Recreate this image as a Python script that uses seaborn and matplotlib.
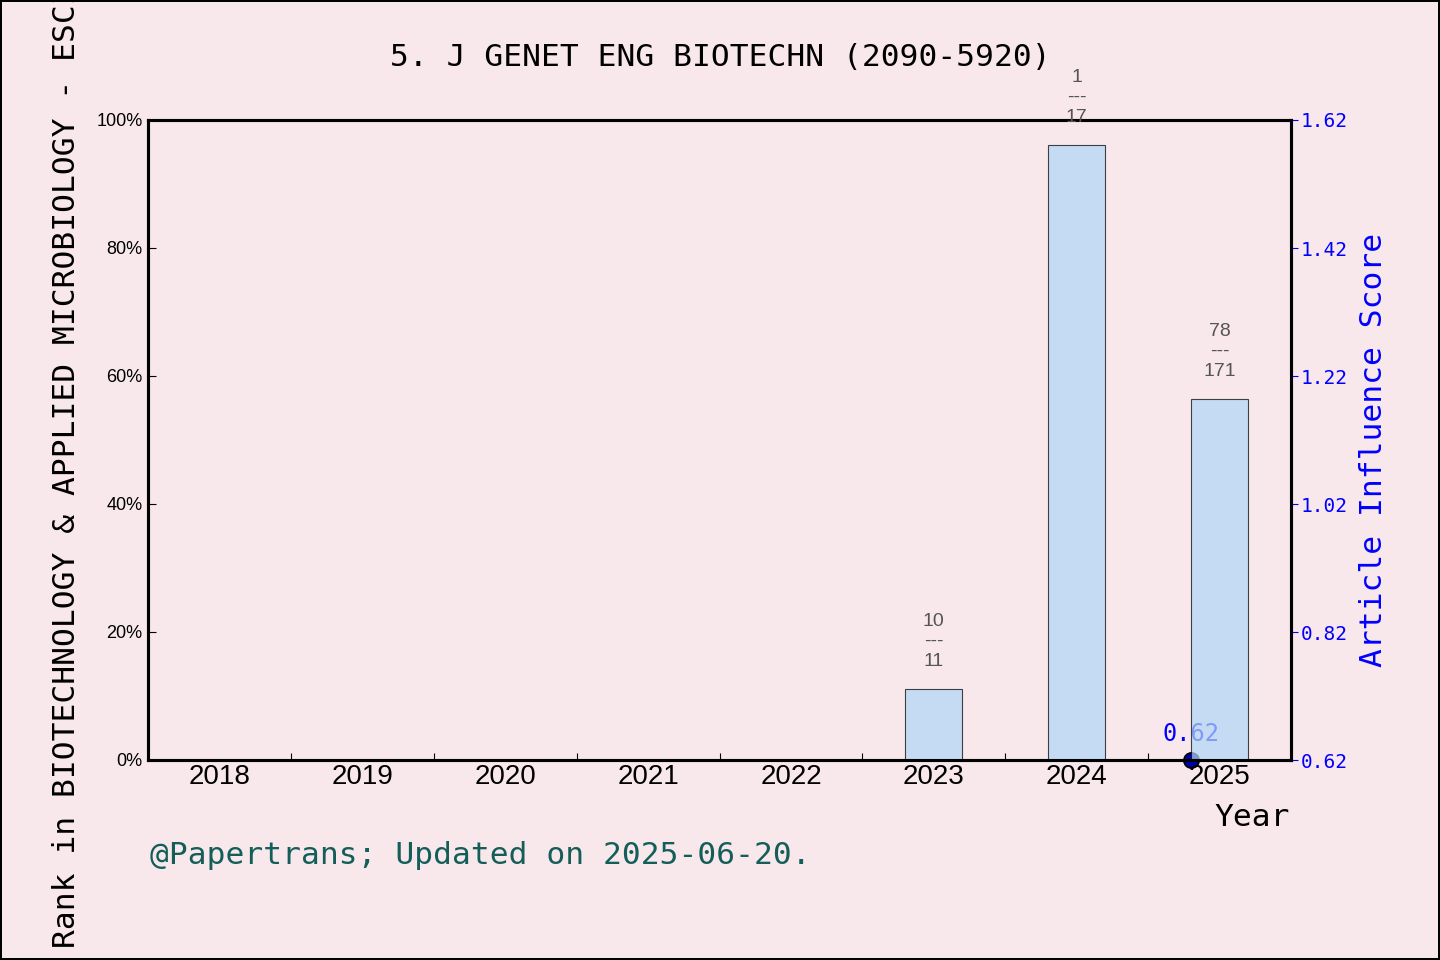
import pandas as pd
import seaborn as sns
import matplotlib.pyplot as plt
from matplotlib.ticker import FixedLocator, PercentFormatter

years = ["2018", "2019", "2020", "2021", "2022", "2023", "2024", "2025"]
rank_years = ["2023", "2024", "2025"]
rank_pct = [11.1, 96.1, 56.4]
rank_num = [10, 1, 78]
rank_total = [11, 17, 171]
ais_years = ["2025"]
ais_values = [0.62]
ais_ticks = [0.62, 0.82, 1.02, 1.22, 1.42, 1.62]
pct_ticks = [0, 20, 40, 60, 80, 100]

title = "5. J GENET ENG BIOTECHN (2090-5920)"
left_label = "Rank in BIOTECHNOLOGY & APPLIED MICROBIOLOGY - ESCI"
right_label = "Article Influence Score"
footer = "@Papertrans; Updated on 2025-06-20."

mono = ["DejaVu Sans Mono"]
sans = ["Liberation Sans", "DejaVu Sans"]
bg = "#f8e8ec"

sns.set_theme(style="white")
plt.rcParams["font.family"] = sans
plt.rcParams["text.color"] = "black"
plt.rcParams["xtick.color"] = "black"
plt.rcParams["ytick.color"] = "black"

fig = plt.figure(figsize=(14.4, 9.6), dpi=100, facecolor=bg)
fig.patch.set_edgecolor("black")
fig.patch.set_linewidth(1.5)
ax = fig.add_axes([148 / 1440, 1 - 760 / 960, 1143 / 1440, 640 / 960])
ax2 = ax.twinx()

# line axis underneath, bars on top with some transparency
ax.set_zorder(ax2.get_zorder() + 1)
ax.patch.set_visible(False)
ax2.set_facecolor("white")

df = pd.DataFrame({"year": rank_years, "pct": rank_pct})
sns.barplot(data=df, x="year", y="pct", order=years, ax=ax, width=0.4,
            color="#b0d6f6", alpha=0.72, edgecolor="black", linewidth=0.8,
            saturation=1)

for yr, p, n, t in zip(rank_years, rank_pct, rank_num, rank_total):
    ax.annotate(f"{n}\n---\n{t}", (years.index(yr), p), xytext=(0, 14),
                textcoords="offset points", ha="center", va="bottom",
                fontsize=14, color="#555555", linespacing=1.2,
                annotation_clip=False)

ais_x = [years.index(y) - 0.2 for y in ais_years]
sns.scatterplot(x=ais_x, y=ais_values, ax=ax2, s=120, color="#0000aa",
                edgecolor="black", linewidth=1.2, zorder=5, clip_on=False)
for x, v in zip(ais_x, ais_values):
    ax2.annotate(f"{v:.2f}", (x, v), xytext=(0, 10), textcoords="offset points",
                 ha="center", va="bottom", color="blue", fontsize=17,
                 family=mono)

ax.set_xlim(-0.5, len(years) - 0.5)
ax.set_ylim(0, 100)
ax2.set_ylim(ais_ticks[0], ais_ticks[-1])

ax.xaxis.set_major_locator(FixedLocator(range(len(years))))
ax.set_xticklabels(years, fontsize=20, color="black")
ax.xaxis.set_minor_locator(FixedLocator([i + 0.5 for i in range(len(years) - 1)]))
ax.tick_params(axis="x", which="major", length=0, pad=3)
ax.tick_params(axis="x", which="minor", direction="in", length=5, width=0.8,
               bottom=True, color="black")
ax.set_yticks(pct_ticks)
ax.yaxis.set_major_formatter(PercentFormatter(decimals=0))
ax.tick_params(axis="y", direction="in", length=6, width=0.8, labelsize=13,
               left=True, color="black", labelcolor="black", pad=4)
ax.set_xlabel("")
ax.set_ylabel("")

ax2.set_yticks(ais_ticks)
ax2.set_yticklabels([f"{v:.2f}" for v in ais_ticks], family=mono, fontsize=14)
ax2.tick_params(axis="y", direction="out", length=5, width=0.8, colors="blue",
                right=True, pad=2)
ax2.set_ylabel("")

for a in (ax, ax2):
    for s in a.spines.values():
        s.set_color("black")
        s.set_linewidth(2.2)

fig.text(720 / 1440, 1 - 57 / 960, title, ha="center", va="center",
         fontsize=22.5, family=mono, color="black")
fig.text(67 / 1440, 1 - 948 / 960, left_label, rotation=90, ha="center",
         va="bottom", fontsize=22.5, family=mono, color="black")
fig.text(1374 / 1440, 1 - 450 / 960, right_label, rotation=90, ha="center",
         va="center", fontsize=22.5, family=mono, color="blue")
fig.text(1290 / 1440, 1 - 817 / 960, "Year", ha="right", va="center",
         fontsize=22.5, family=mono, color="black")
fig.text(150 / 1440, 1 - 855 / 960, footer, ha="left", va="center",
         fontsize=22.5, family=mono, color="#135e58")

fig.savefig("out.png", dpi=100, facecolor=bg, edgecolor="black")
